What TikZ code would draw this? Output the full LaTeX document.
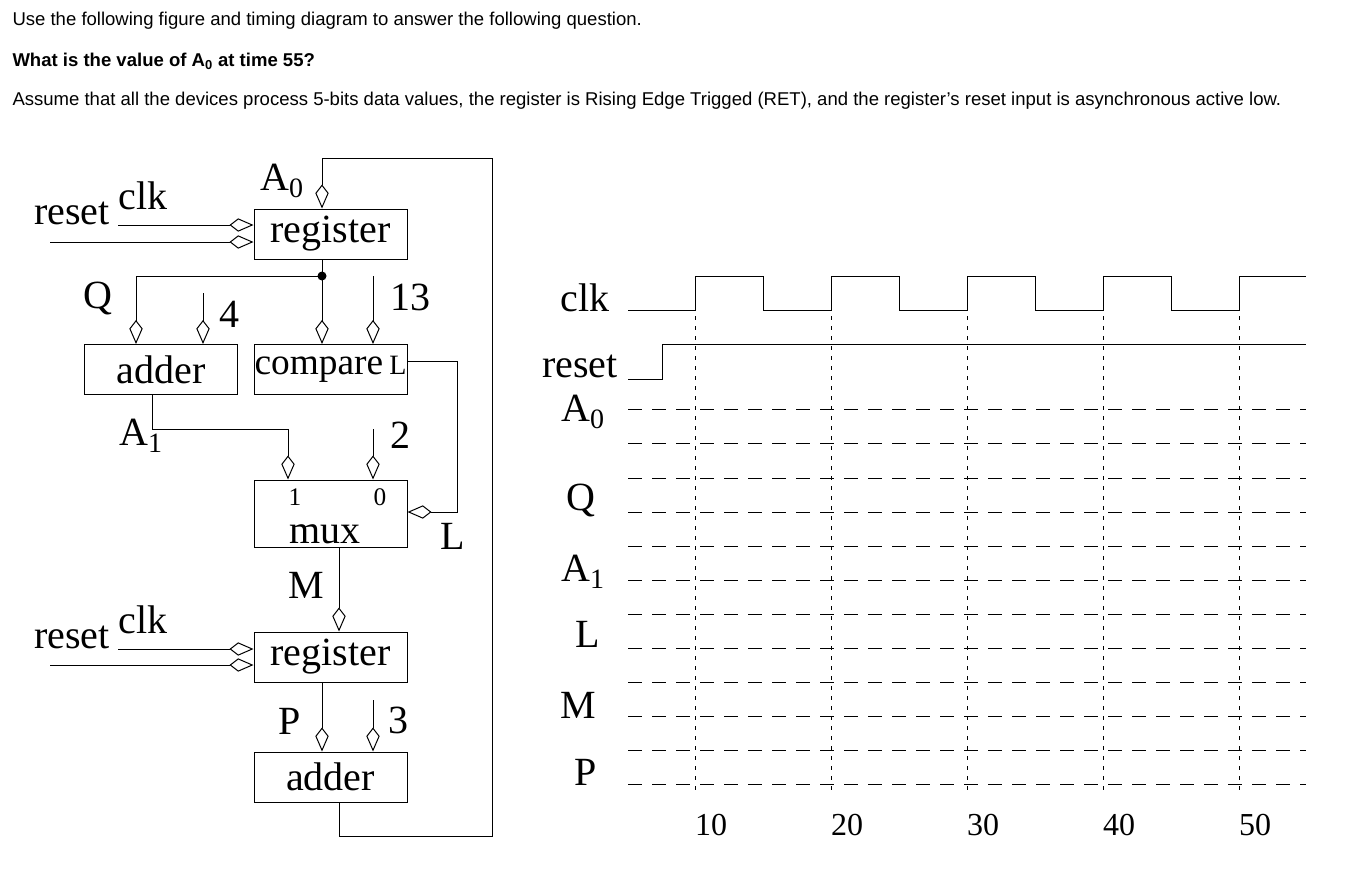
\documentclass[tikz,border=0pt]{standalone}
\usepackage{fontspec}
\setmainfont{Liberation Serif}
\newfontfamily\hdrfont{Liberation Sans}
\usetikzlibrary{arrows.meta}
\tikzset{every picture/.style={line width=0.75pt}}
\tikzset{
  box/.style={draw, minimum width=114.75pt, minimum height=37.5pt, inner sep=0pt, font=\fontsize{30}{30}\selectfont},
  lbl/.style={inner sep=0.75pt, font=\fontsize{30}{30}\selectfont},
  sig/.style={-{Kite[open, length=18pt, width=10pt, inset=6.5pt]}},
  grid/.style={dash pattern=on 10.5pt off 7.5pt},
  edge/.style={dash pattern=on 3pt off 4.5pt, line width=0.6pt},
  hdr/.style={anchor=west, inner sep=0pt, font=\hdrfont\fontsize{13.9}{15}\selectfont}
}

\begin{document}
\begin{tikzpicture}[x=0.75pt,y=0.75pt,yscale=-1,xscale=1]
\useasboundingbox (0,0) rectangle (1358,871);

% Question text
\node[hdr] (q1) at (12,21) {Use the following figure and timing diagram to answer the following question.};
\node[hdr] (q2) at (12,61) {\bfseries What is the value of A\textsubscript{0} at time 55?};
\node[hdr] (q3) at (12,101) {Assume that all the devices process 5-bits data values, the register is Rising Edge Trigged (RET), and the register’s reset input is asynchronous active low.};

% Boxes
\node[box] (reg1) at (330.5,234) {register};
\node[box] (add1) at (161,369.5) {adder};
\node[box, font=\fontsize{28}{28}\selectfont] (cmp) at (330.5,369.5) {compare\,{\fontsize{21}{21}\selectfont L}};
\node[box, minimum height=50.25pt] (mux) at (330.5,513.5) {};
\node[box] (reg2) at (330.5,657) {register};
\node[box] (add2) at (330.5,777) {adder};
\node[lbl, inner sep=0pt] (muxtxt) at (325,534) {mux};
\node[lbl, inner sep=0pt, font=\fontsize{19}{19}\selectfont] (m1) at (295,497) {1};
\node[lbl, inner sep=0pt, font=\fontsize{19}{19}\selectfont] (m0) at (380,497) {0};

% Register 1 inputs
\coordinate (clkA) at (118,225);
\coordinate (rstA) at (50,242);
\draw[sig] (clkA) -- (reg1.west |- clkA);
\draw[sig] (rstA) -- (reg1.west |- rstA);
\node[lbl] (rstAt) at (72,213) {reset};
\node[lbl] (clkAt) at (143,196) {clk};

% Feedback A0
\coordinate (fb0) at (339,802);
\coordinate (fb1) at (339,836);
\coordinate (fb2) at (492,836);
\coordinate (fb3) at (492,158);
\coordinate (fb4) at (322,158);
\draw[sig] (fb0) -- (fb1) -- (fb2) -- (fb3) -- (fb4) -- (reg1.north -| fb4);
\node[lbl] (A0t) at (282,181) {A$_{\mathrm{0}}$};

% Q
\coordinate (qj) at (322,276);
\coordinate (qa) at (136,276);
\draw (reg1.south -| qj) -- (qj);
\draw[sig] (qj) -- (qa) -- (add1.north -| qa);
\draw[sig] (qj) -- (cmp.north -| qj);
\fill (qj) circle (4.5);
\node[lbl] (Qt) at (98,298) {Q};

% Constants
\coordinate (c4) at (203,293);
\draw[sig] (c4) -- (add1.north -| c4);
\node[lbl] (c4t) at (229,314) {4};
\coordinate (c13) at (373,276);
\draw[sig] (c13) -- (cmp.north -| c13);
\node[lbl] (c13t) at (410,297) {13};
\coordinate (c2) at (373,429);
\draw[sig] (c2) -- (mux.north -| c2);
\node[lbl] (c2t) at (400,435) {2};
\coordinate (c3) at (373,700);
\draw[sig] (c3) -- (add2.north -| c3);
\node[lbl] (c3t) at (398,720) {3};

% A1
\coordinate (a1a) at (152,429);
\coordinate (a1b) at (288,429);
\draw[sig] (add1.south -| a1a) -- (a1a) -- (a1b) -- (mux.north -| a1b);
\node[lbl] (A1t) at (141,436) {A$_{\mathrm{1}}$};

% L
\coordinate (la) at (457,361);
\coordinate (lb) at (457,512);
\draw[sig] (cmp.east |- la) -- (la) -- (lb) -- (mux.east |- lb);
\node[lbl] (Lt) at (453,536) {L};

% M
\coordinate (mm) at (339,547);
\draw[sig] (mm) -- (reg2.north -| mm);
\node[lbl] (Mt) at (306,585) {M};

% Register 2 inputs
\coordinate (clkB) at (118,649);
\coordinate (rstB) at (50,665);
\draw[sig] (clkB) -- (reg2.west |- clkB);
\draw[sig] (rstB) -- (reg2.west |- rstB);
\node[lbl] (rstBt) at (72,637) {reset};
\node[lbl] (clkBt) at (143,620) {clk};

% P
\coordinate (pp) at (322,682);
\draw[sig] (pp) -- (add2.north -| pp);
\node[lbl] (Pt) at (290,721) {P};

% Timing diagram
\node[lbl] (tclk) at (585,298) {clk};
\node[lbl] (trst) at (580,366) {reset};
\node[lbl] (tA0) at (583,412) {A$_{\mathrm{0}}$};
\node[lbl] (tQ) at (581,500) {Q};
\node[lbl] (tA1) at (583,572) {A$_{\mathrm{1}}$};
\node[lbl] (tL) at (588,634) {L};
\node[lbl] (tM) at (578,705) {M};
\node[lbl] (tP) at (586,772) {P};

\draw (628,310) -- (695,310) -- (695,276) -- (763,276) -- (763,310) -- (831,310) -- (831,276) -- (899,276) -- (899,310) -- (967,310) -- (967,276) -- (1035,276) -- (1035,310) -- (1103,310) -- (1103,276) -- (1171,276) -- (1171,310) -- (1239,310) -- (1239,276) -- (1306,276);
\draw (628,379) -- (662,379) -- (662,344) -- (1306,344);

\foreach \y in {409,443,478,512,546,580,614,648,682,716,750,784}
  \draw[grid] (628,\y) -- (1306,\y);
\foreach \x/\t in {695/10,831/20,967/30,1103/40,1239/50} {
  \draw[edge] (\x,316) -- (\x,792);
  \node[lbl, font=\fontsize{24}{24}\selectfont] at (\x+16,825) {\t};
}
\end{tikzpicture}
\end{document}
